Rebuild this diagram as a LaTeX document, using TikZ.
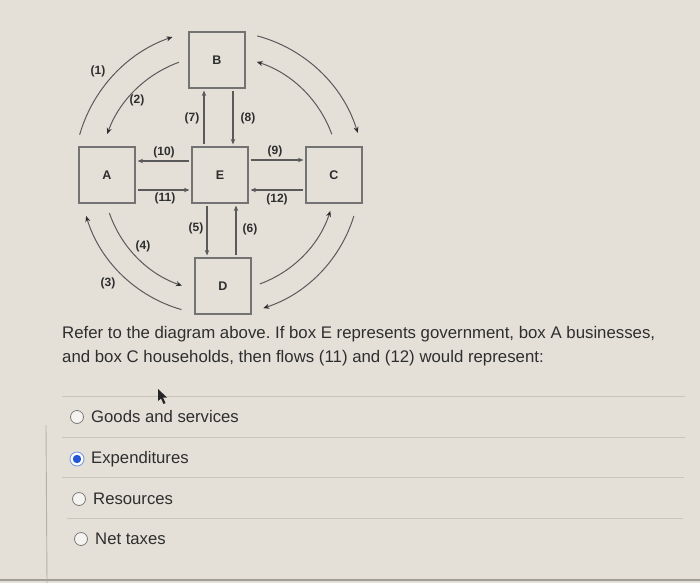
\documentclass[tikz,border=0pt]{standalone}
\usepackage{fontspec}
\setmainfont{Liberation Sans}
\usetikzlibrary{arrows.meta}
\frenchspacing
\definecolor{bg}{HTML}{E4E0D8}
\definecolor{ink}{HTML}{5A5A5A}
\definecolor{txt}{HTML}{2E2E2E}
\definecolor{sep}{HTML}{C9C5BD}
\definecolor{selblue}{HTML}{2457D6}
\tikzset{
  box/.style={draw=ink!85, line width=1.1pt, minimum width=56pt, minimum height=56pt, inner sep=0pt, text=txt, font=\bfseries\fontsize{12.5}{12.5}\selectfont},
  flow/.style={draw=ink, line width=1.1pt, -{Stealth[length=5.5pt,width=4.5pt]}, shorten >=2pt, shorten <=2pt},
  arcflow/.style={draw=ink, line width=1pt, -{Stealth[length=6pt,width=5pt,color=txt]}},
  lab/.style={text=txt, font=\bfseries\fontsize{12}{12}\selectfont, inner sep=0pt},
  qtext/.style={text=txt, font=\frenchspacing\fontsize{16.8}{16.8}\selectfont, inner sep=0pt, anchor=west},
  otext/.style={text=txt, font=\fontsize{16.7}{16.7}\selectfont, inner sep=0pt, anchor=west},
  radio/.style={draw=ink!80, line width=0.8pt, fill=white!60!bg},
  sepline/.style={draw=sep, line width=1pt}
}
\begin{document}
\begin{tikzpicture}[x=1pt,y=-1pt]
\fill[bg] (0,0) rectangle (700,583);
\useasboundingbox (0,0) rectangle (700,583);
% boxes
\node[box] (B) at (217,60) {B};
\node[box] (A) at (107,175) {A};
\node[box] (E) at (220,175) {E};
\node[box] (C) at (334,175) {C};
\node[box] (D) at (223,286) {D};
% horizontal flows
\draw[flow] ([yshift=14pt]E.west) -- ([yshift=14pt]A.east);
\draw[flow] ([yshift=-15pt]A.east) -- ([yshift=-15pt]E.west);
\draw[flow] ([yshift=15pt]E.east) -- ([yshift=15pt]C.west);
\draw[flow] ([yshift=-15pt]C.west) -- ([yshift=-15pt]E.east);
% vertical flows
\draw[flow] ([xshift=-16pt]E.north) -- ([xshift=-16pt]E.north |- B.south);
\draw[flow] ([xshift=16pt]B.south) -- ([xshift=16pt]B.south |- E.north);
\draw[flow] ([xshift=-13pt]E.south) -- ([xshift=-13pt]E.south |- D.north);
\draw[flow] ([xshift=13pt]D.north) -- ([xshift=13pt]D.north |- E.south);
% circular flows
\draw[arcflow] (E.center) ++(-164:146) arc[start angle=-164, end angle=-109, radius=146];
\draw[arcflow] (E.center) ++(-110:120) arc[start angle=-110, end angle=-160, radius=120];
\draw[arcflow] (E.center) ++(-75:144) arc[start angle=-75, end angle=-17, radius=144];
\draw[arcflow] (E.center) ++(-20:119) arc[start angle=-20, end angle=-72, radius=119];
\draw[arcflow] (E.center) ++(-254:140) arc[start angle=-254, end angle=-197, radius=140];
\draw[arcflow] (E.center) ++(-199:117) arc[start angle=-199, end angle=-251, radius=117];
\draw[arcflow] (E.center) ++(-290:116) arc[start angle=-290, end angle=-342, radius=116];
\draw[arcflow] (E.center) ++(-343:140) arc[start angle=-343, end angle=-288, radius=140];
% labels
\node[lab] (l1) at (98,71) {(1)};
\node[lab] (l2) at (137,100) {(2)};
\node[lab] (l3) at (108,283) {(3)};
\node[lab] (l4) at (143,246) {(4)};
\node[lab] (l5) at (196,228) {(5)};
\node[lab] (l6) at (250,229) {(6)};
\node[lab] (l7) at (192,118) {(7)};
\node[lab] (l8) at (248,118) {(8)};
\node[lab] (l9) at (275,151) {(9)};
\node[lab] (l10) at (164,152) {(10)};
\node[lab] (l11) at (165,198) {(11)};
\node[lab] (l12) at (277,199) {(12)};
% question
\node[qtext] (q1) at (62,334) {Refer to the diagram above. If box E represents government, box A businesses,};
\node[qtext] (q2) at (62,358) {and box C households, then flows (11) and (12) would represent:};
% separators
\draw[sepline] (62,396) -- (685,396);
\draw[sepline] (62,437) -- (685,437);
\draw[sepline] (62,477) -- (684,477);
\draw[sepline] (67,518) -- (683,518);
% bottom frame
\draw[sep!90!black, line width=0.9pt] (46,425) -- (47,583);
\draw[sep!80!black, line width=1.2pt] (0,580) -- (700,580);
% options
\node[radio, circle, minimum size=13pt, inner sep=0pt] (r1) at (77,417) {};
\node[otext] (o1) at (91,417) {Goods and services};
\node[circle, draw=selblue!60, line width=0.9pt, fill=white, minimum size=14pt, inner sep=0pt] (r2) at (77,459) {};
\fill[selblue] (r2.center) circle[radius=4.2pt];
\node[otext] (o2) at (91,459) {Expenditures};
\node[radio, circle, minimum size=13pt, inner sep=0pt] (r3) at (79,499) {};
\node[otext] (o3) at (93,499) {Resources};
\node[radio, circle, minimum size=13pt, inner sep=0pt] (r4) at (81,539) {};
\node[otext] (o4) at (95,539) {Net taxes};
% cursor
\fill[black!85] (158,389) -- (158,401) -- (161,398.5) -- (163.5,404) -- (165.5,403) -- (163,397.5) -- (167,397.5) -- cycle;
\end{tikzpicture}
\end{document}
